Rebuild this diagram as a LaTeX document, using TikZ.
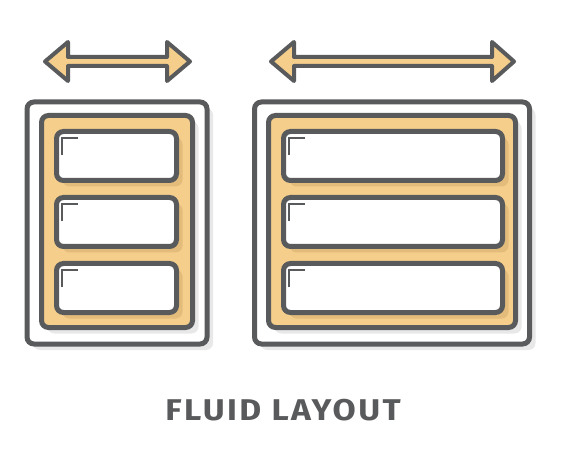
\documentclass[tikz,border=0pt]{standalone}
\usepackage{fontspec}
\setmainfont{Fira Sans}
\newfontfamily\titlefont[FakeStretch=1.12,LetterSpace=8]{Fira Sans}
\usetikzlibrary{shadows,calc}
\definecolor{ink}{HTML}{595A5C}
\definecolor{sand}{HTML}{F5CE8B}
\definecolor{sandshadow}{HTML}{E3BC7B}
\definecolor{greyshadow}{HTML}{E8E8E8}
\tikzset{
  base/.style={draw=ink, line width=5pt, rounded corners=7pt, rectangle, inner sep=0pt, outer sep=0pt},
  outerbox/.style={base, fill=white, drop shadow={shadow xshift=6pt, shadow yshift=-6pt, fill=greyshadow, opacity=1}},
  orangebox/.style={base, fill=sand, drop shadow={shadow xshift=6pt, shadow yshift=-6pt, fill=greyshadow, opacity=1}},
  whitebox/.style={base, fill=white, drop shadow={shadow xshift=6pt, shadow yshift=-6pt, fill=sandshadow, opacity=1}},
  arrowshape/.style={draw=ink, fill=sand, line width=4pt, line join=round},
  cornermark/.style={draw=ink, line width=2.5pt},
}
\begin{document}
\begin{tikzpicture}[x=1pt,y=-1pt]
\useasboundingbox (0,0) rectangle (586,470);
% left column
\node[outerbox, minimum width=180pt, minimum height=242pt] (lo) at (117,223) {};
\node[orangebox, minimum width=151pt, minimum height=212pt] (lm) at (117,221.5) {};
\foreach \n/\y in {1/156,2/222,3/288}{
  \node[whitebox, minimum width=120pt, minimum height=49pt] (lw\n) at (116.5,\y) {};
  \draw[cornermark] ($(lw\n.north west)+(5.5,23.5)$) -- ($(lw\n.north west)+(5.5,6.5)$) -- ($(lw\n.north west)+(21.5,6.5)$);
}
% right column
\node[outerbox, minimum width=275pt, minimum height=242pt] (ro) at (392,223) {};
\node[orangebox, minimum width=247pt, minimum height=212pt] (rm) at (392,221.5) {};
\foreach \n/\y in {1/156,2/222,3/288}{
  \node[whitebox, minimum width=219pt, minimum height=49pt] (rw\n) at (393,\y) {};
  \draw[cornermark] ($(rw\n.north west)+(5.5,23.5)$) -- ($(rw\n.north west)+(5.5,6.5)$) -- ($(rw\n.north west)+(21.5,6.5)$);
}
% arrows
\draw[arrowshape] (45,61.5) -- (68,42) -- (68,57) -- (167,57) -- (167,42) -- (190,61.5) -- (167,81) -- (167,66) -- (68,66) -- (68,81) -- cycle;
\draw[arrowshape] (271,61.5) -- (294,42) -- (294,57) -- (492,57) -- (492,42) -- (514,61.5) -- (492,81) -- (492,66) -- (294,66) -- (294,81) -- cycle;
% title
\node[text=ink, font=\titlefont\fontsize{30}{30}\selectfont\bfseries, inner sep=0pt] (title) at (283,410) {FLUID LAYOUT};
\end{tikzpicture}
\end{document}
